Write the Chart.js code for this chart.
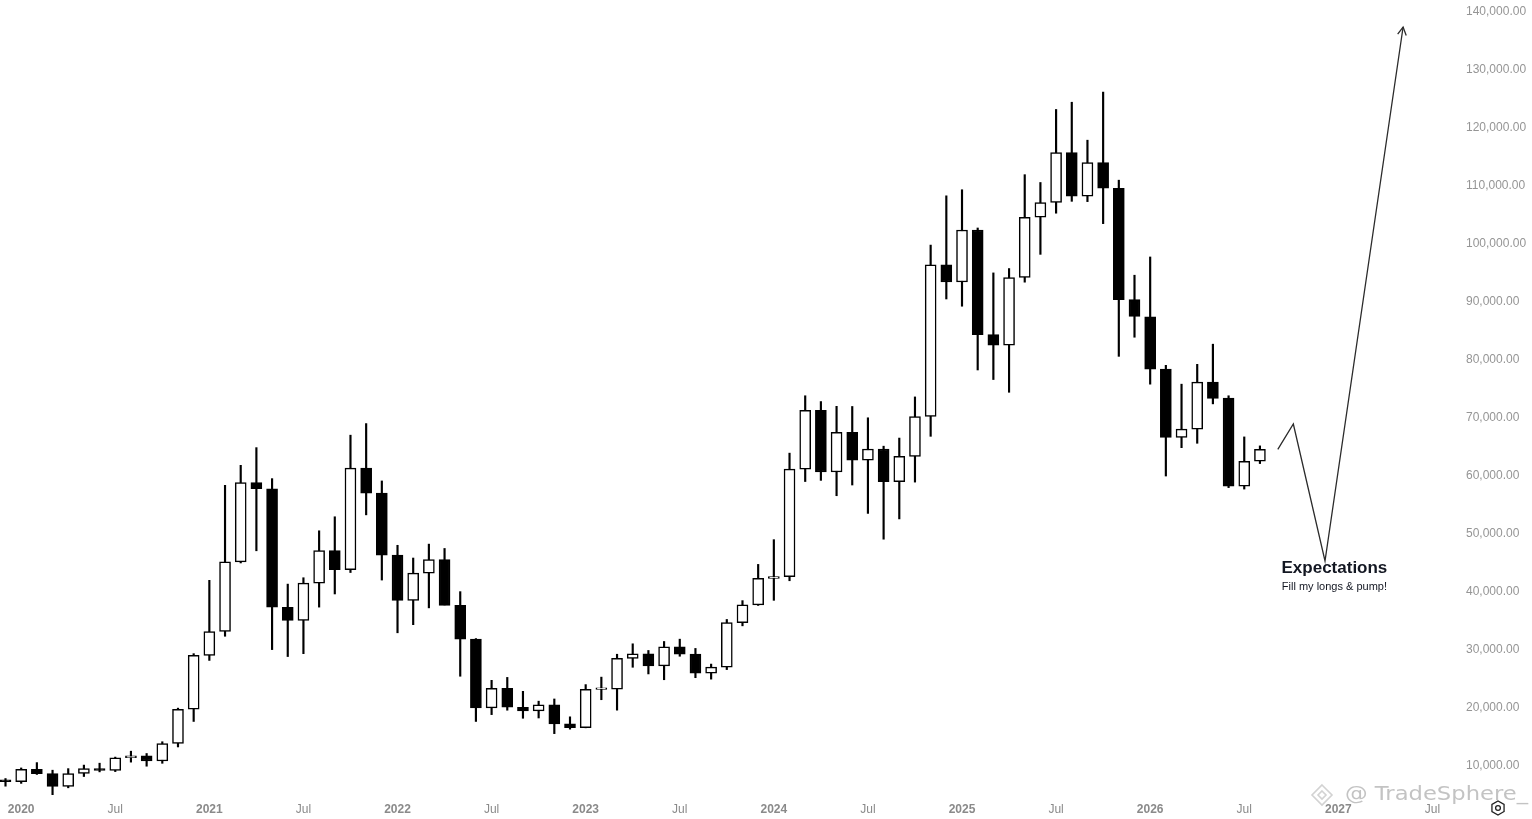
<!DOCTYPE html>
<html><head><meta charset="utf-8">
<script src="https://cdn.jsdelivr.net/npm/chart.js@4.4.1/dist/chart.umd.min.js"></script>
<style>html,body{margin:0;padding:0;background:#fff;overflow:hidden}#wrap{position:relative;width:1532px;height:819px}</style>
</head><body><div id="wrap"><canvas id="c" width="1532" height="819"></canvas></div>
<script>
// Monthly candles, Dec 2019 .. Aug 2026
const months = ["2019-12",
 "2020-01","2020-02","2020-03","2020-04","2020-05","2020-06","2020-07","2020-08","2020-09","2020-10","2020-11","2020-12",
 "2021-01","2021-02","2021-03","2021-04","2021-05","2021-06","2021-07","2021-08","2021-09","2021-10","2021-11","2021-12",
 "2022-01","2022-02","2022-03","2022-04","2022-05","2022-06","2022-07","2022-08","2022-09","2022-10","2022-11","2022-12",
 "2023-01","2023-02","2023-03","2023-04","2023-05","2023-06","2023-07","2023-08","2023-09","2023-10","2023-11","2023-12",
 "2024-01","2024-02","2024-03","2024-04","2024-05","2024-06","2024-07","2024-08","2024-09","2024-10","2024-11","2024-12",
 "2025-01","2025-02","2025-03","2025-04","2025-05","2025-06","2025-07","2025-08","2025-09","2025-10","2025-11","2025-12",
 "2026-01","2026-02","2026-03","2026-04","2026-05","2026-06","2026-07","2026-08"];
const open = [7541,
 7193,9350,8600,6410,8625,9450,9135,11335,11650,10775,13800,19700,
 28990,33115,45140,58800,57750,37300,35050,41460,47100,43800,61300,57000,
 46300,38480,43190,45540,37640,31800,19930,23300,20050,19430,20490,17170,
 16540,23130,23150,28480,29250,27200,30470,29230,25940,26970,34650,37720,
 42280,42580,61130,71280,60640,67490,62680,64620,58970,63330,70220,96400,
 93430,102400,84350,82550,94200,104600,107150,115750,108250,114050,109600,90400,
 87420,78400,66600,68050,76150,73400,58200,62500];
const high = [7750,
 9578,10500,9190,9460,10070,10400,11450,12470,12070,14100,19900,29300,
 41950,58350,61800,64850,59500,41300,42400,50500,52920,67000,69000,59100,
 48000,45800,48200,47450,40000,31900,24700,25200,22800,21100,21480,18400,
 23960,25250,29200,31000,29850,31400,31800,30200,27500,35200,38450,44700,
 48970,63900,73800,72800,71980,71950,70000,65100,66500,73600,99800,108300,
 109350,102750,95000,95750,111950,110600,123200,124450,117900,126200,111000,94600,
 97750,79050,75800,79220,82700,73800,66700,65150];
const low = [6430,
 6915,8460,3850,6150,8100,8900,8950,10580,9880,10380,13200,17600,
 28130,32300,44950,47050,30000,28800,29300,37330,39600,43300,53250,42000,
 32900,34300,37200,37700,25400,17600,18780,19540,18150,18200,15500,16270,
 16500,21350,19550,26950,25800,24800,28850,25150,24900,26550,34100,37620,
 38500,41880,59000,59200,56550,58400,53500,49050,52550,58900,66800,90500,
 89250,78250,76600,74400,93400,98200,105300,107350,107300,103500,80600,83900,
 75800,59950,64840,65600,72400,57950,57700,62100];
const close = [7193,
 9350,8600,6410,8625,9450,9135,11335,11650,10775,13800,19700,28990,
 33115,45140,58800,57750,37300,35050,41460,47100,43800,61300,57000,46300,
 38480,43190,45540,37640,31800,19930,23300,20050,19430,20490,17170,16540,
 23130,23150,28480,29250,27200,30470,29230,25940,26970,34650,37720,42280,
 42580,61130,71280,60640,67490,62680,64620,58970,63330,70220,96400,93430,
 102400,84350,82550,94200,104600,107150,115750,108250,114050,109600,90400,87500,
 78400,66600,68050,76150,73350,58200,62500,64550];

// Axis ticks (x = month index counted from Dec 2019)
const xTickIndex = [1,7,13,19,25,31,37,43,49,55,61,67,73,79,85,91];
const xTickLabels = ["2020","Jul","2021","Jul","2022","Jul","2023","Jul","2024","Jul","2025","Jul","2026","Jul","2027","Jul"];
const yTickValues = [10000,20000,30000,40000,50000,60000,70000,80000,90000,100000,110000,120000,130000,140000];

// "Expectations" projection path
const pathIndex = [81.14, 82.13, 84.15, 89.13];
const pathValue = [64560, 68930, 45290, 137430];
const noteTitle = "Expectations";
const noteText = "Fill my longs & pump!";
const noteIndex = 84.75;
const noteTitleValue = 44050;
const noteTextValue = 40800;
const watermark = "@ TradeSphere_";

const overlay = {
  id: 'overlay',
  afterDatasetsDraw(chart) {
    const ctx = chart.ctx, xs = chart.scales.x, ys = chart.scales.y;
    // arrow head
    const n = pathIndex.length;
    const x1 = xs.getPixelForValue(pathIndex[n-1]), y1 = ys.getPixelForValue(pathValue[n-1]);
    const x0 = xs.getPixelForValue(pathIndex[n-2]), y0 = ys.getPixelForValue(pathValue[n-2]);
    const a = Math.atan2(y1 - y0, x1 - x0);
    ctx.save();
    ctx.strokeStyle = '#2b2b2b'; ctx.lineWidth = 1.3;
    ctx.beginPath();
    ctx.moveTo(x1 - 9*Math.cos(a - 0.5), y1 - 9*Math.sin(a - 0.5));
    ctx.lineTo(x1, y1);
    ctx.lineTo(x1 - 9*Math.cos(a + 0.5), y1 - 9*Math.sin(a + 0.5));
    ctx.stroke();
    // note text
    ctx.fillStyle = '#131722';
    ctx.textAlign = 'center'; ctx.textBaseline = 'middle';
    ctx.font = 'bold 17px "Liberation Sans", Arial, sans-serif';
    ctx.fillText(noteTitle, xs.getPixelForValue(noteIndex), ys.getPixelForValue(noteTitleValue));
    ctx.font = '11px "Liberation Sans", Arial, sans-serif';
    ctx.fillText(noteText, xs.getPixelForValue(noteIndex), ys.getPixelForValue(noteTextValue));
    ctx.restore();
  },
  afterDraw(chart) {
    const ctx = chart.ctx;
    ctx.save();
    // watermark logo
    ctx.strokeStyle = '#d2d2d2'; ctx.lineWidth = 1.6;
    const cx = 1322, cy = 795;
    ctx.beginPath();
    ctx.moveTo(cx, cy - 10); ctx.lineTo(cx + 10, cy); ctx.lineTo(cx, cy + 10); ctx.lineTo(cx - 10, cy); ctx.closePath();
    ctx.stroke();
    ctx.beginPath();
    ctx.moveTo(cx, cy - 4); ctx.lineTo(cx + 4, cy); ctx.lineTo(cx, cy + 4); ctx.lineTo(cx - 4, cy); ctx.closePath();
    ctx.stroke();
    // watermark text, stretched to the reference width
    ctx.fillStyle = 'rgba(185,185,185,0.85)';
    ctx.font = '19px "DejaVu Sans", "Liberation Sans", sans-serif';
    ctx.textAlign = 'left'; ctx.textBaseline = 'alphabetic';
    const w = ctx.measureText(watermark).width;
    const sx = 183 / w;
    ctx.translate(1345, 800);
    ctx.scale(sx, 1);
    ctx.fillText(watermark, 0, 0);
    ctx.setTransform(1, 0, 0, 1, 0, 0);
    // hexagon icon
    ctx.strokeStyle = '#222'; ctx.lineWidth = 1.3;
    const hx = 1498, hy = 808, r = 7;
    ctx.beginPath();
    for (let k = 0; k < 6; k++) {
      const ang = Math.PI/6 + k*Math.PI/3;
      const px = hx + r*Math.cos(ang), py = hy + r*Math.sin(ang);
      if (k === 0) ctx.moveTo(px, py); else ctx.lineTo(px, py);
    }
    ctx.closePath(); ctx.stroke();
    ctx.beginPath(); ctx.arc(hx, hy, 2.4, 0, Math.PI*2); ctx.stroke();
    ctx.restore();
  }
};

const fmt = v => Number(v).toLocaleString('en-US', {minimumFractionDigits: 2, maximumFractionDigits: 2});

new Chart(document.getElementById('c'), {
  data: {
    datasets: [
      {
        type: 'line', order: 0,
        data: pathIndex.map((x, i) => ({x: x, y: pathValue[i]})),
        borderColor: '#2b2b2b', borderWidth: 1.3, pointRadius: 0, tension: 0, fill: false, clip: false
      },
      {
        type: 'bar', order: 1, grouped: false,
        data: months.map((m, i) => ({x: i, y: [open[i], close[i]]})),
        backgroundColor: months.map((m, i) => close[i] >= open[i] ? '#ffffff' : '#000000'),
        borderColor: '#000000', borderWidth: 1.5, borderSkipped: false,
        barThickness: 11, minBarLength: 1.5
      },
      {
        type: 'bar', order: 2, grouped: false,
        data: months.map((m, i) => ({x: i, y: [low[i], high[i]]})),
        backgroundColor: '#000000', borderWidth: 0,
        barThickness: 1.5
      }
    ]
  },
  options: {
    responsive: false, animation: false, devicePixelRatio: 1,
    layout: { padding: 0 },
    plugins: { legend: { display: false }, tooltip: { enabled: false } },
    scales: {
      x: {
        type: 'linear', min: -0.351, max: 92.44, offset: false,
        grid: { display: false, drawTicks: false }, border: { display: false },
        afterBuildTicks: s => { s.ticks = xTickIndex.map(v => ({value: v})); },
        afterFit: s => { s.height = 24; s.paddingLeft = 0; s.paddingRight = 0; },
        ticks: {
          autoSkip: false, maxRotation: 0, minRotation: 0, padding: 7, color: '#8a8a8a',
          font: c => ({ family: '"Liberation Sans", Arial, sans-serif', size: 12, weight: (c.index % 2 === 0) ? 'bold' : 'normal' }),
          callback: (v) => xTickLabels[xTickIndex.indexOf(v)]
        }
      },
      y: {
        type: 'linear', position: 'right', min: 4910, max: 142090,
        grid: { display: false, drawTicks: false }, border: { display: false },
        afterBuildTicks: s => { s.ticks = yTickValues.map(v => ({value: v})); },
        afterFit: s => { s.width = 77; s.paddingTop = 0; s.paddingBottom = 0; },
        ticks: {
          padding: 11, color: '#959595',
          font: { family: '"Liberation Sans", Arial, sans-serif', size: 12 },
          callback: v => fmt(v)
        }
      }
    }
  },
  plugins: [overlay]
});
</script>
</body></html>
